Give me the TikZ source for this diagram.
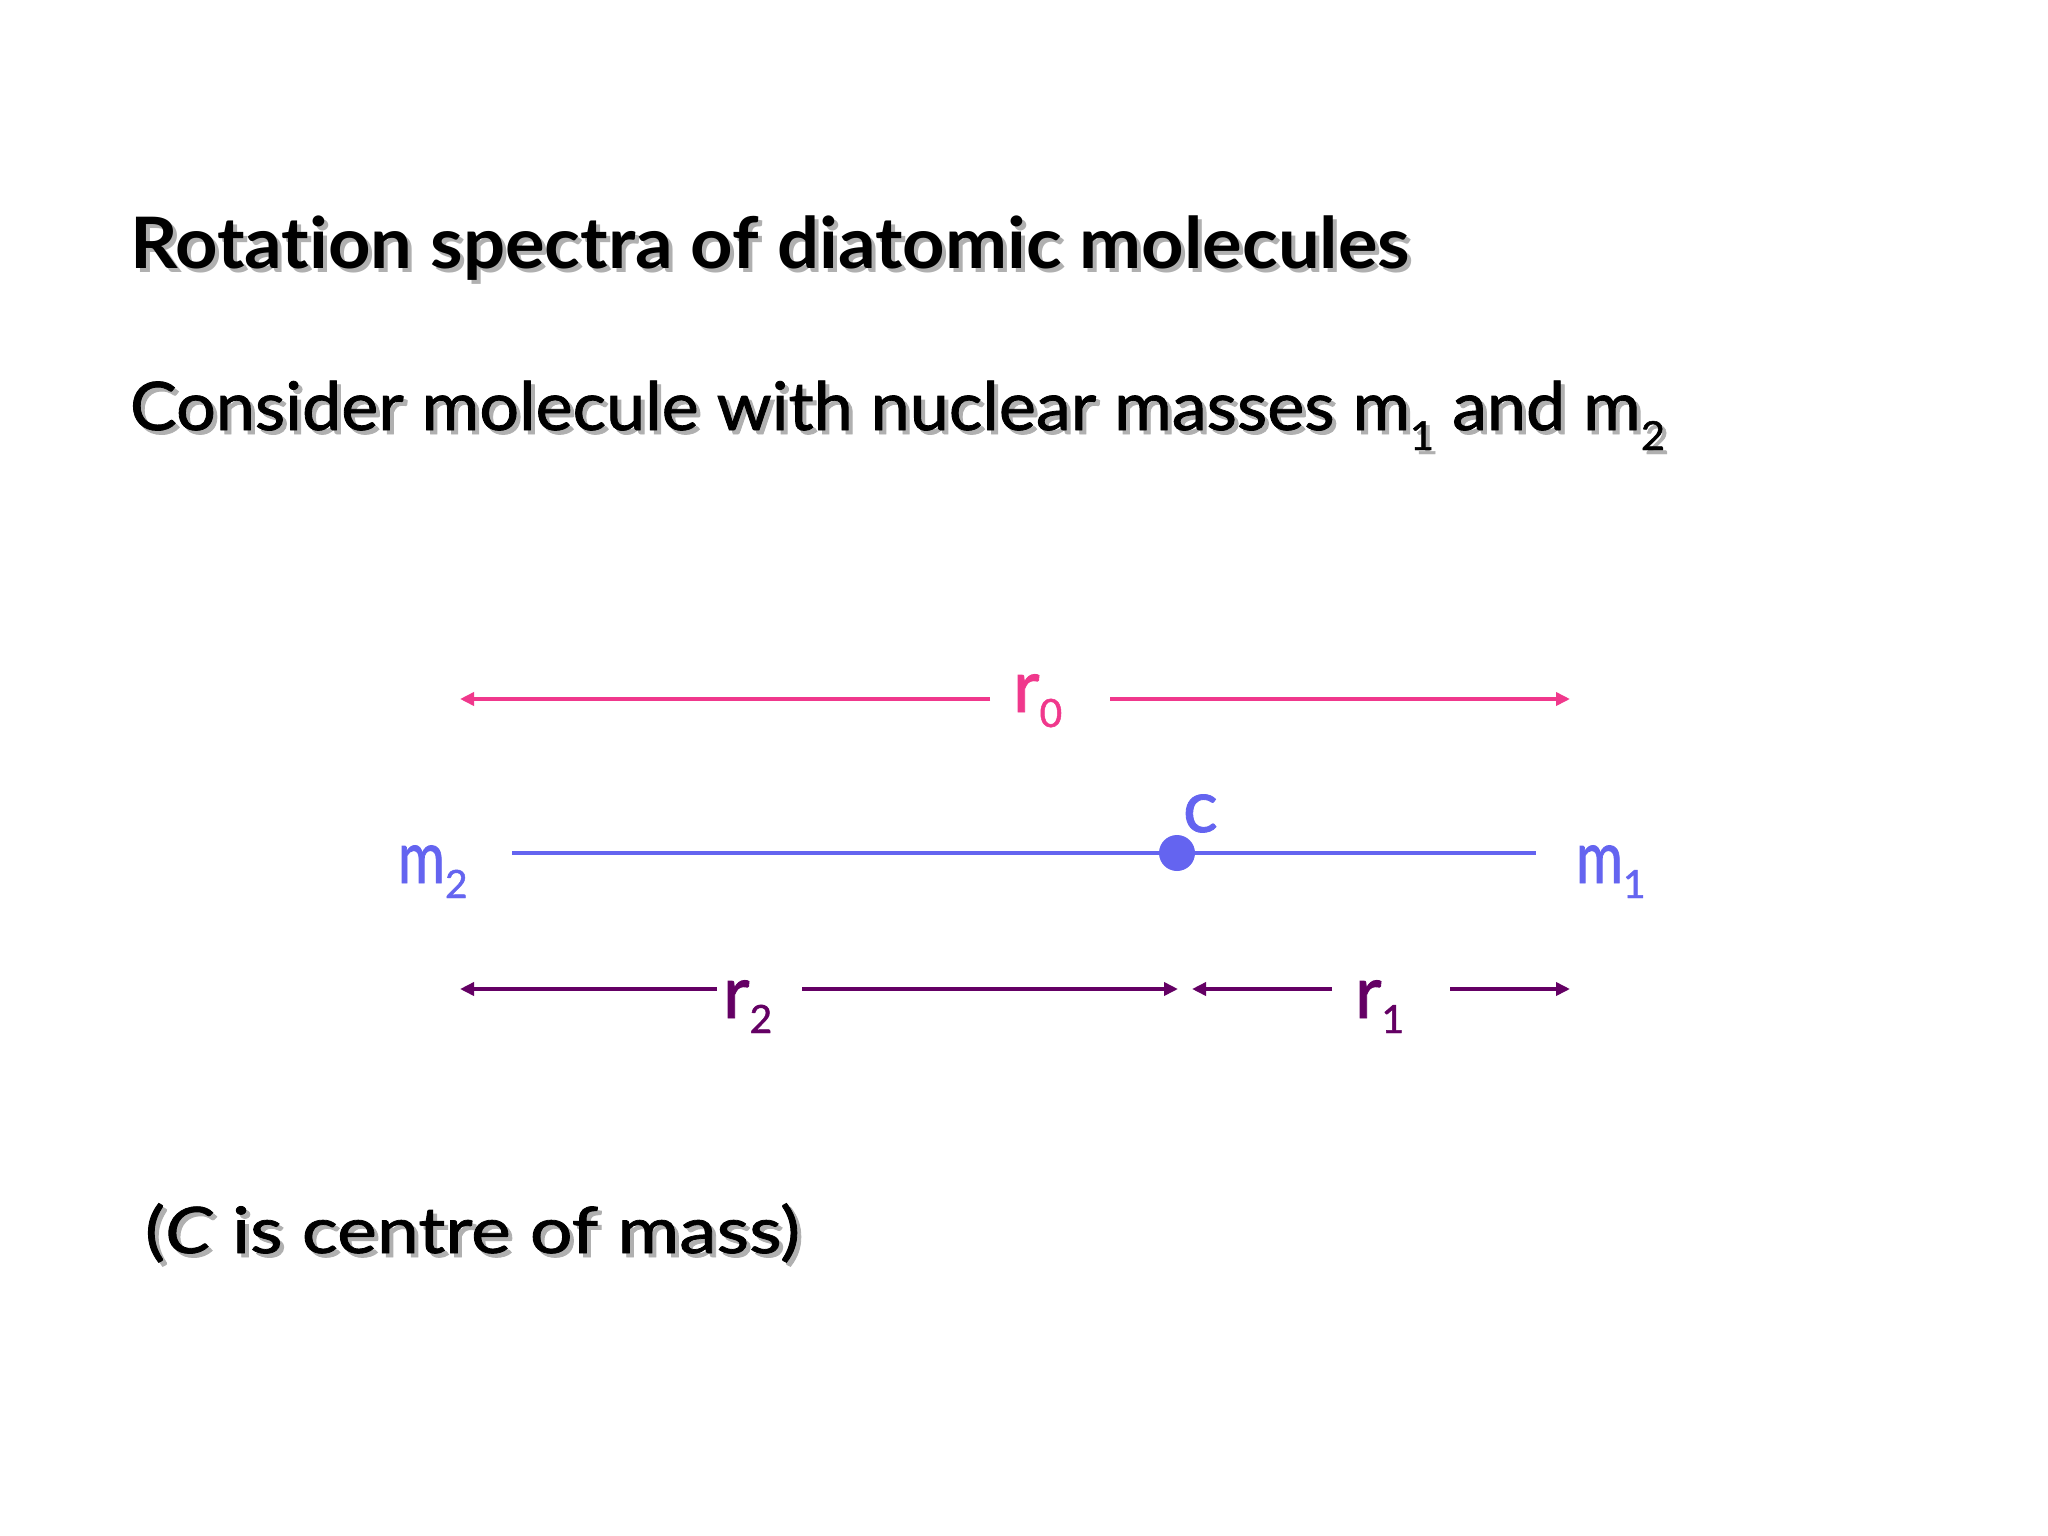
\documentclass[tikz,border=0pt]{standalone}
\usepackage{fontspec}
\setmainfont{Lato}[Ligatures=NoCommon]
\newfontfamily\heavyfont{Lato}[Ligatures=NoCommon, FakeBold=1.2]
\usetikzlibrary{arrows.meta}
\definecolor{pinkc}{HTML}{F0388C}
\definecolor{bluec}{HTML}{6464F0}
\definecolor{purpc}{HTML}{640064}
\definecolor{shadowc}{HTML}{B0B0B0}
\newcommand\tsub[1]{\raisebox{-20pt}{\fontsize{40}{40}\selectfont #1}}
\newcommand\lsub[1]{\raisebox{-15pt}{\fontsize{39}{39}\selectfont #1}}
\newcommand\lm{\resizebox{47pt}{\height}{m}}
\begin{document}
\begin{tikzpicture}[x=1pt,y=-1pt,
  txt/.style={anchor=base west, inner sep=0pt, outer sep=0pt},
  shd/.style={txt, text=shadowc, xshift=4pt, yshift=-4pt},
  titlefont/.style={font=\bfseries\fontsize{71}{74}\selectfont},
  bodyfont/.style={font=\heavyfont\fontsize{67}{70}\selectfont},
  footfont/.style={font=\heavyfont\fontsize{64}{66}\selectfont},
  lbl/.style={txt, font=\heavyfont\fontsize{73}{75}\selectfont},
  dim/.style={line width=4pt, -{Triangle[length=14pt,width=13pt]}},
]
\fill[white] (0,0) rectangle (2048,1536);
\useasboundingbox (0,0) rectangle (2048,1536);

% title
\node[shd, titlefont] (titleS) at (130,268) {\resizebox{1280pt}{\height}{Rotation spectra of diatomic molecules}};
\node[txt, titlefont] (title) at (130,268) {\resizebox{1280pt}{\height}{Rotation spectra of diatomic molecules}};

% line 2
\node[shd, bodyfont] (line2S) at (130,430) {\resizebox{1535pt}{\height}{Consider molecule with nuclear masses m\tsub{1} and m\tsub{2}}};
\node[txt, bodyfont] (line2) at (130,430) {\resizebox{1535pt}{\height}{Consider molecule with nuclear masses m\tsub{1} and m\tsub{2}}};

% footer
\node[shd, footfont] (footS) at (145,1253) {\resizebox{655pt}{\height}{(\textit{C} is centre of mass)}};
\node[txt, footfont] (foot) at (145,1253) {\resizebox{655pt}{\height}{(\textit{C} is centre of mass)}};

% r0 dimension
\coordinate (r0L) at (460,699);
\coordinate (r0a) at (990,699);
\coordinate (r0b) at (1110,699);
\coordinate (r0R) at (1570,699);
\node[lbl, text=pinkc] (r0) at (1013,712) {r\lsub{0}};
\draw[dim, pinkc] (r0a) -- (r0L);
\draw[dim, pinkc] (r0b) -- (r0R);

% molecule axis
\coordinate (bL) at (512,853);
\coordinate (bR) at (1536,853);
\node[circle, fill=bluec, minimum size=36pt, inner sep=0pt] (C) at (1177,853) {};
\draw[bluec, line width=4pt] (bL) -- (C);
\draw[bluec, line width=4pt] (C) -- (bR);
\node[lbl, text=bluec] (c) at (1183,832) {c};
\node[lbl, text=bluec] (m2) at (398,883) {\lm\lsub{2}};
\node[lbl, text=bluec] (m1) at (1576,883) {\lm\lsub{1}};

% r2 dimension
\coordinate (r2L) at (460,989);
\coordinate (r2a) at (717,989);
\coordinate (r2b) at (802,989);
\coordinate (r2R) at (1178,989);
\node[lbl, text=purpc] (r2) at (723,1018) {r\lsub{2}};
\draw[dim, purpc] (r2a) -- (r2L);
\draw[dim, purpc] (r2b) -- (r2R);

% r1 dimension
\coordinate (r1L) at (1192,989);
\coordinate (r1a) at (1332,989);
\coordinate (r1b) at (1450,989);
\coordinate (r1R) at (1570,989);
\node[lbl, text=purpc] (r1) at (1355,1018) {r\lsub{1}};
\draw[dim, purpc] (r1a) -- (r1L);
\draw[dim, purpc] (r1b) -- (r1R);
\end{tikzpicture}
\end{document}
